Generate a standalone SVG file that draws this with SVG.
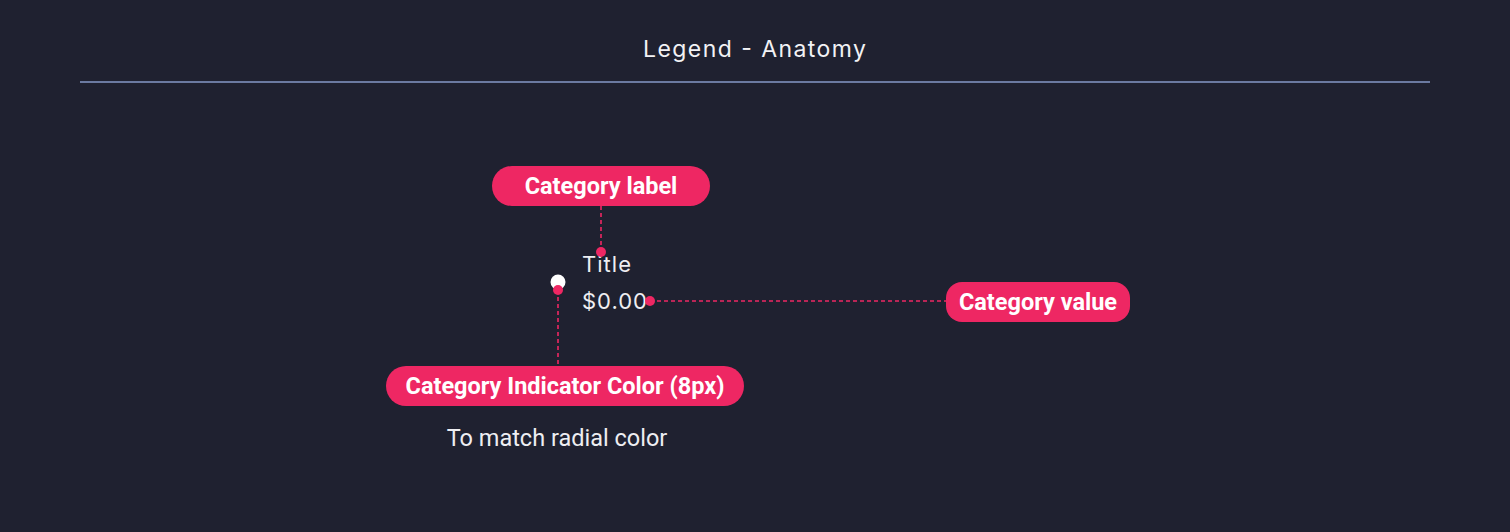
<svg xmlns="http://www.w3.org/2000/svg" width="1510" height="532" viewBox="0 0 1510 532">
<style>
.pill{fill:#ee2763}
.pt{font-family:Roboto,"Liberation Sans",sans-serif;font-weight:700;font-size:23.5px;fill:#ffffff;text-anchor:middle}
.body{font-family:Inter,"Noto Sans",sans-serif;font-size:22px;fill:#eeeef2}
.dash{stroke:#ee2763;stroke-width:1.6;stroke-dasharray:4 3;fill:none}
.dot{fill:#ee2763}
</style>
<rect width="1510" height="532" fill="#1f2130"/>
<g id="header">
<text x="643" y="57" font-family="Inter,'Noto Sans',sans-serif" font-size="23" fill="#f2f2f5" textLength="223" lengthAdjust="spacing">Legend - Anatomy</text>
<line x1="80" y1="82" x2="1430" y2="82" stroke="#6b7aa1" stroke-width="2"/>
</g>
<g id="connectors">
<line class="dash" x1="601" y1="206" x2="601" y2="252"/>
<line class="dash" x1="558" y1="290" x2="558" y2="366"/>
<line class="dash" x1="650" y1="301" x2="946" y2="301"/>
</g>
<g id="legend-item">
<circle cx="558" cy="282" r="7.5" fill="#ffffff"/>
<text class="body" x="582" y="272" textLength="49" lengthAdjust="spacing">Title</text>
<text class="body" x="582" y="309" textLength="65" lengthAdjust="spacing">$0.00</text>
<circle class="dot" cx="601" cy="252" r="5"/>
<circle class="dot" cx="558" cy="290" r="5"/>
<circle class="dot" cx="650" cy="301" r="5"/>
</g>
<g id="category-label">
<rect class="pill" x="492" y="166" width="218" height="40" rx="20"/>
<text class="pt" x="601" y="194">Category label</text>
</g>
<g id="category-value">
<rect class="pill" x="946" y="282" width="184" height="40" rx="16"/>
<text class="pt" x="1038" y="310">Category value</text>
</g>
<g id="category-indicator">
<rect class="pill" x="386" y="366" width="358" height="40" rx="20"/>
<text class="pt" x="565" y="394">Category Indicator Color (8px)</text>
<text x="557" y="446" font-family="Roboto,'Liberation Sans',sans-serif" font-size="23.5" fill="#eeeef2" text-anchor="middle">To match radial color</text>
</g>
</svg>
